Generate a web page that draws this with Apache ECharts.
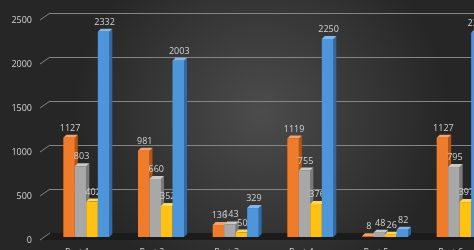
<!DOCTYPE html>
<html>
<head>
<meta charset="utf-8">
<script src="https://cdn.jsdelivr.net/npm/echarts@6/dist/echarts.min.js"></script>
<style>
  html, body { margin: 0; padding: 0; background: #333; }
  #chart { width: 474px; height: 250px; }
</style>
</head>
<body>
<div id="chart"></div>
<script>
// categories (x labels are cut off at the bottom of the picture)
var categories = ['Part 1', 'Part 2', 'Part 3', 'Part 4', 'Part 5', 'Part 6'];
// series values
var orangeVals = [1127, 981, 136, 1119, 8, 1127];
var grayVals = [803, 660, 143, 755, 48, 795];
var yellowVals = [402, 352, 50, 376, 26, 397];
var blueVals = [2332, 2003, 329, 2250, 82, 2320];
var yTicks = [0, 500, 1000, 1500, 2000, 2500];

var seriesList = [
  { name: 'A', data: orangeVals, front: '#f07b2b', side: '#b35515', top: '#f7a06a' },
  { name: 'B', data: grayVals, front: '#a8a8a8', side: '#7a7a7a', top: '#c8c8c8' },
  { name: 'C', data: yellowVals, front: '#ffc213', side: '#c08f00', top: '#ffd860' },
  { name: 'D', data: blueVals, front: '#4f95da', side: '#2f6aa8', top: '#84b6e8' }
];

var chart = echarts.init(document.getElementById('chart'));

var barW = 11.5, depth = 3;

function barRender(idx, s) {
  return function (params, api) {
    var cat = api.value(0), val = api.value(1);
    var base = api.coord([cat, 0]);
    var top = api.coord([cat, val]);
    var xl = base[0] + (idx - 2) * barW;
    var xr = xl + barW;
    var yb = base[1], yt = top[1];
    return {
      type: 'group',
      children: [
        { type: 'polygon', shape: { points: [[xr, yt], [xr + depth, yt - depth], [xr + depth, yb - depth], [xr, yb]] }, style: { fill: s.side } },
        { type: 'polygon', shape: { points: [[xl, yt], [xl + depth, yt - depth], [xr + depth, yt - depth], [xr, yt]] }, style: { fill: s.top } },
        { type: 'rect', shape: { x: xl, y: yt, width: barW, height: yb - yt }, style: { fill: s.front } },
        { type: 'text', x: xl + barW / 2 + 1, y: yt - depth - 2, style: { text: String(val), fill: '#d4d4d4', font: '9px "Open Sans", sans-serif', align: 'center', verticalAlign: 'bottom' } }
      ]
    };
  };
}

var series = seriesList.map(function (s, i) {
  return {
    type: 'custom',
    name: s.name,
    xAxisIndex: 2,
    yAxisIndex: 2,
    z: 5 + i,
    renderItem: barRender(i, s),
    data: s.data.map(function (v, k) { return [k, v]; })
  };
});

// floor under the bars
series.unshift({
  type: 'custom',
  xAxisIndex: 0,
  yAxisIndex: 0,
  z: 1,
  renderItem: function (params, api) {
    var cs = params.coordSys;
    var yb = cs.y + cs.height;
    return {
      type: 'polygon',
      shape: { points: [[cs.x - 10, yb + 7], [474, yb + 7], [474, yb], [cs.x, yb]] },
      style: { fill: '#1b1b1b' }
    };
  },
  data: [[0, 0]]
});

// perspective stubs from the front labels to the back wall gridlines
series.unshift({
  type: 'custom',
  xAxisIndex: 0,
  yAxisIndex: 0,
  z: 2,
  renderItem: function (params, api) {
    var p = api.coord([0, api.value(1)]);
    var x0 = params.coordSys.x;
    return {
      type: 'line',
      shape: { x1: x0 - 10, y1: p[1] + 7, x2: x0, y2: p[1] },
      style: { stroke: '#858585', lineWidth: 1 }
    };
  },
  data: yTicks.map(function (t) { return [0, t]; })
});

var option = {
  backgroundColor: {
    type: 'radial', x: 0.55, y: 0.45, r: 0.75,
    colorStops: [{ offset: 0, color: '#4c4c4c' }, { offset: 1, color: '#262626' }]
  },
  grid: [
    { left: 50, top: 13, width: 448, bottom: 17, outerBoundsMode: 'none' },
    { left: 40, top: 20, width: 448, bottom: 10, outerBoundsMode: 'none' },
    { left: 49, top: 17, width: 448, bottom: 13, outerBoundsMode: 'none' }
  ],
  xAxis: [
    { gridIndex: 0, type: 'category', data: categories, axisLine: { show: false }, axisTick: { show: false }, axisLabel: { show: false } },
    { gridIndex: 1, type: 'category', data: categories, axisLine: { show: false }, axisTick: { show: false },
      axisLabel: { color: '#cfcfcf', fontSize: 9, margin: 8, fontFamily: 'Open Sans' } },
    { gridIndex: 2, type: 'category', data: categories, show: false }
  ],
  yAxis: [
    { gridIndex: 0, type: 'value', min: 0, max: 2500, interval: 500, axisLabel: { show: false },
      axisLine: { show: false }, axisTick: { show: false },
      splitLine: { lineStyle: { color: '#858585', width: 1 } } },
    { gridIndex: 1, type: 'value', min: 0, max: 2500, interval: 500,
      axisLine: { show: false }, axisTick: { show: false }, splitLine: { show: false },
      axisLabel: { color: '#d4d4d4', fontSize: 9, margin: 8, fontFamily: 'Open Sans',
        formatter: function (v) { return String(v); } } },
    { gridIndex: 2, type: 'value', min: 0, max: 2500, interval: 500, show: false }
  ],
  series: series
};

chart.setOption(option);
</script>
</body>
</html>
